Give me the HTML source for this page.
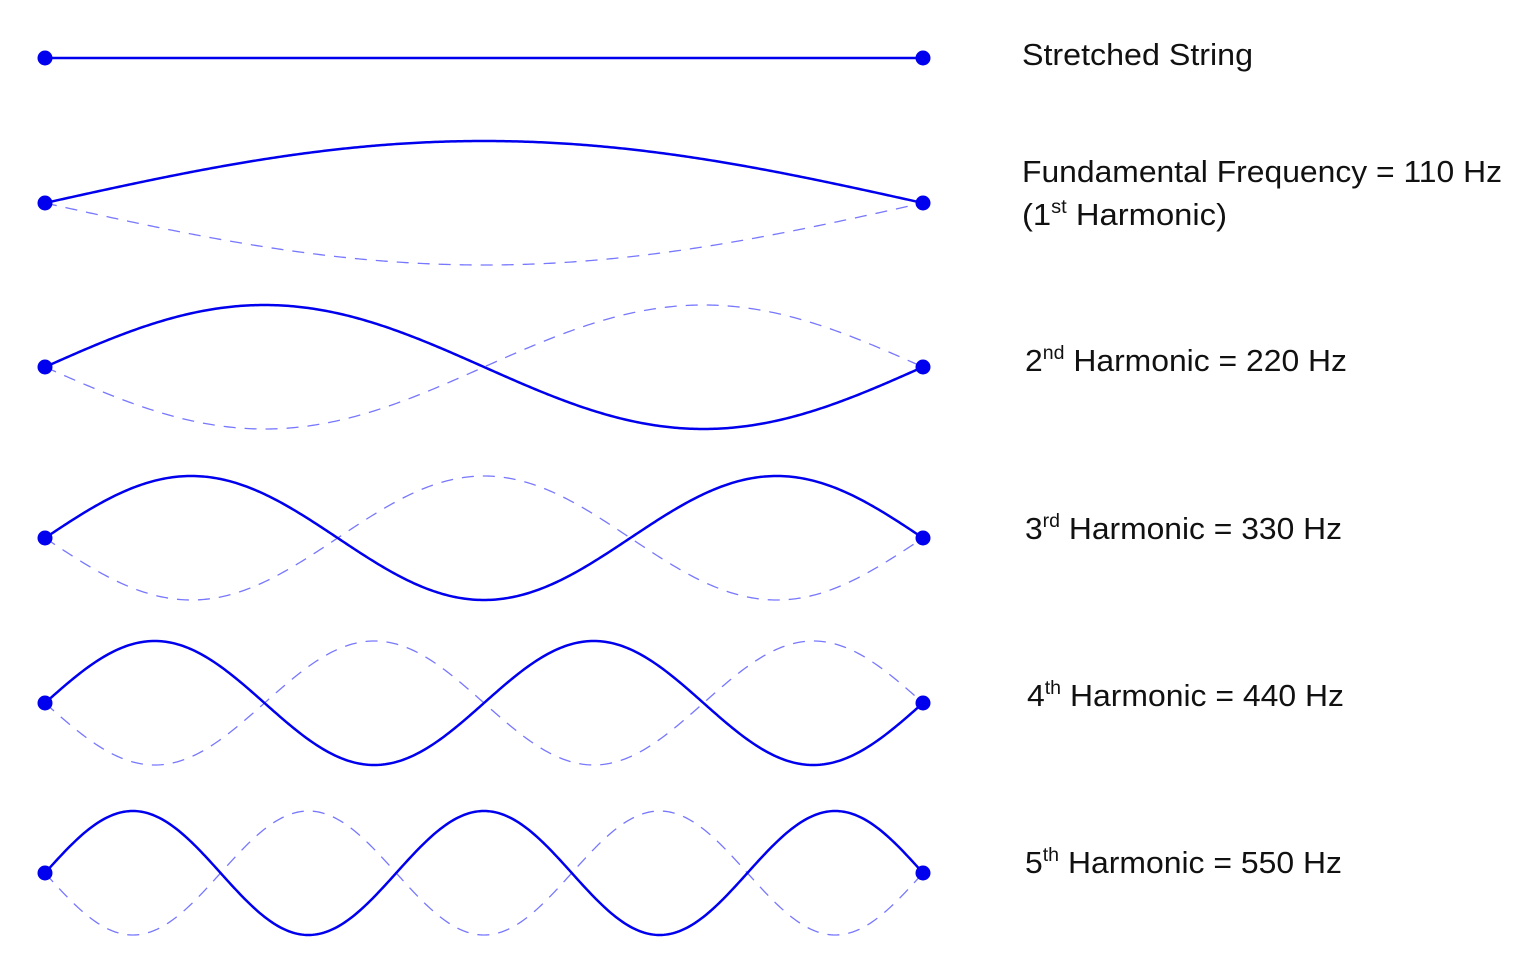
<!DOCTYPE html>
<html><head><meta charset="utf-8"><style>
html,body{margin:0;padding:0;background:#fff;}
svg{display:block}
text{font-family:"Liberation Sans",sans-serif;font-size:31px;fill:#111;}
</style></head><body>
<svg id="s" width="1536" height="972" viewBox="0 0 1536 972" xmlns="http://www.w3.org/2000/svg">
<line x1="45" y1="58" x2="923" y2="58" stroke="#0000ee" stroke-width="2.5"/>
<g id="waves"></g>
<text x="1022" y="65" textLength="231" lengthAdjust="spacingAndGlyphs">Stretched String</text>
<text x="1022" y="182" textLength="480" lengthAdjust="spacingAndGlyphs">Fundamental Frequency = 110 Hz</text>
<text x="1022" y="225" textLength="205" lengthAdjust="spacingAndGlyphs">(1<tspan font-size="19" dy="-12">st</tspan><tspan dy="12"> Harmonic)</tspan></text>
<text x="1025" y="371" textLength="322" lengthAdjust="spacingAndGlyphs">2<tspan font-size="19" dy="-12">nd</tspan><tspan dy="12"> Harmonic = 220 Hz</tspan></text>
<text x="1025" y="539" textLength="317" lengthAdjust="spacingAndGlyphs">3<tspan font-size="19" dy="-12">rd</tspan><tspan dy="12"> Harmonic = 330 Hz</tspan></text>
<text x="1027" y="706" textLength="317" lengthAdjust="spacingAndGlyphs">4<tspan font-size="19" dy="-12">th</tspan><tspan dy="12"> Harmonic = 440 Hz</tspan></text>
<text x="1025" y="873" textLength="317" lengthAdjust="spacingAndGlyphs">5<tspan font-size="19" dy="-12">th</tspan><tspan dy="12"> Harmonic = 550 Hz</tspan></text>
</svg>
<script>
(function(){
var g=document.getElementById('waves');
var rows=[[203,1],[367,2],[538,3],[703,4],[873,5]];
var x0=45,x1=923,A=62;
function path(c,n,sgn){
  var d='';
  for(var i=0;i<=400;i++){
    var x=x0+(x1-x0)*i/400;
    var y=c-sgn*A*Math.sin(n*Math.PI*i/400);
    d+=(i?'L':'M')+x.toFixed(2)+' '+y.toFixed(2);
  }
  return d;
}
var html='';
rows.forEach(function(r){
  html+='<path d="'+path(r[0],r[1],-1)+'" fill="none" stroke="#7777ff" stroke-width="1.3" stroke-dasharray="12 9"/>';
  html+='<path d="'+path(r[0],r[1],1)+'" fill="none" stroke="#0000ee" stroke-width="2.5"/>';
});
[58,203,367,538,703,873].forEach(function(y){
  html+='<circle cx="45" cy="'+y+'" r="7.5" fill="#0000ee"/><circle cx="923" cy="'+y+'" r="7.5" fill="#0000ee"/>';
});
g.innerHTML=html;
})();
</script>
</body></html>
